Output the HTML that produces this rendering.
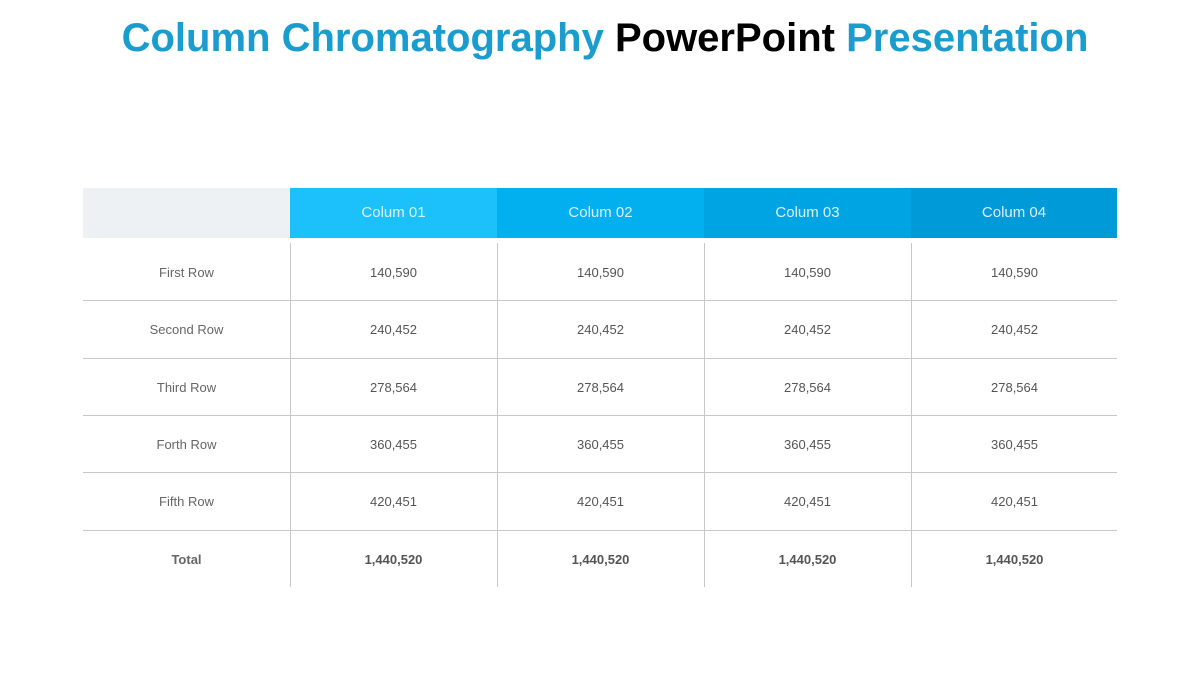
<!DOCTYPE html>
<html><head><meta charset="utf-8"><style>
body{margin:0;width:1200px;height:675px;background:#fff;position:relative;font-family:"Liberation Sans",sans-serif;overflow:hidden}
.t{position:absolute;top:16px;left:5px;width:1200px;text-align:center;font-weight:bold;font-size:40px;color:#1a9ccf;white-space:nowrap}
.t b{color:#000}
.h{position:absolute;top:188px;height:50px;line-height:50px;text-align:center;color:#d8f1fb;font-size:15px}
.c{position:absolute;text-align:center;color:#555;font-size:13px;height:57px;line-height:57px}
.hl{position:absolute;left:83px;width:1034px;height:1px;background:#c8c8c8}
.vl{position:absolute;top:243px;height:344px;width:1px;background:#c8c8c8}
</style></head><body>
<div class="t">Column Chromatography <b>PowerPoint</b> Presentation</div>
<div class="h" style="left:83px;width:207px;background:#eef1f3"></div>
<div class="h" style="left:290px;width:207px;background:#1cc1fb">Colum 01</div>
<div class="h" style="left:497px;width:207px;background:#03b0ef">Colum 02</div>
<div class="h" style="left:704px;width:207px;background:#00a4e3">Colum 03</div>
<div class="h" style="left:911px;width:206px;background:#009ad9">Colum 04</div>
<div class="hl" style="top:300px"></div><div class="hl" style="top:358px"></div><div class="hl" style="top:415px"></div><div class="hl" style="top:472px"></div><div class="hl" style="top:530px"></div>
<div class="vl" style="left:290px"></div><div class="vl" style="left:497px"></div><div class="vl" style="left:704px"></div><div class="vl" style="left:911px"></div>
<div id="g"></div>
<script>
var rows=[["First Row","140,590"],["Second Row","240,452"],["Third Row","278,564"],["Forth Row","360,455"],["Fifth Row","420,451"],["Total","1,440,520"]];
var xs=[83,290,497,704,911],h="";
rows.forEach(function(r,i){var top=244+i*57.3;var st=i==5?"font-weight:bold;color:#555;":"";
h+='<div class="c" style="'+st+'top:'+top+'px;left:83px;width:207px;color:#666">'+r[0]+'</div>';
for(var j=1;j<5;j++)h+='<div class="c" style="'+st+'top:'+top+'px;left:'+xs[j]+'px;width:207px">'+r[1]+'</div>';});
document.getElementById('g').innerHTML=h;
</script>
</body></html>
